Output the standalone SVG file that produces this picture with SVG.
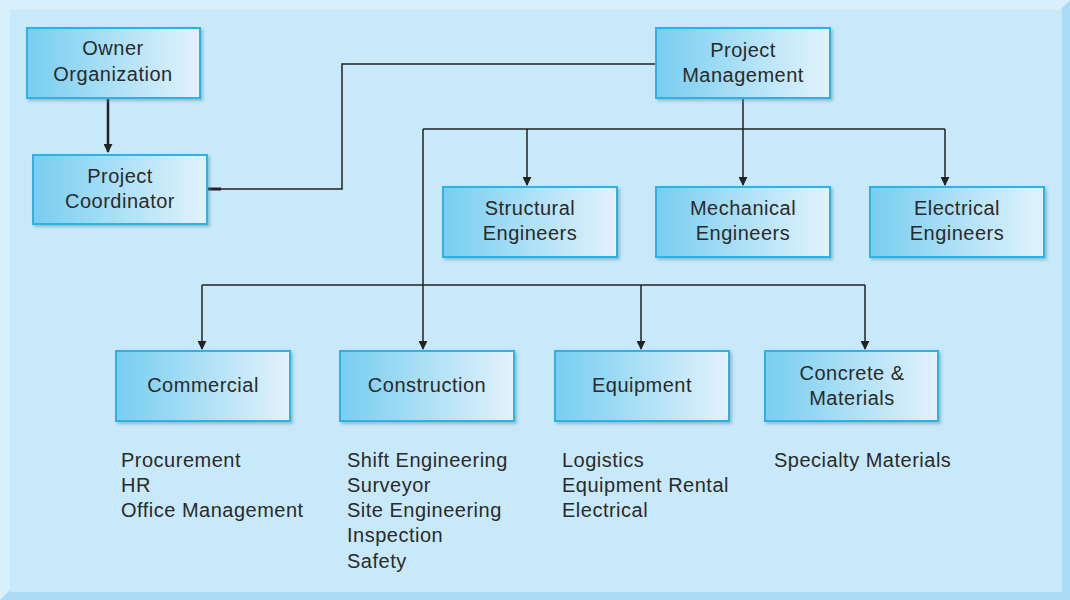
<svg xmlns="http://www.w3.org/2000/svg" width="1070" height="600" viewBox="0 0 1070 600">
<defs>
<linearGradient id="g" x1="0" x2="1" y1="0" y2="0"><stop offset="0" stop-color="#78cdf0"/><stop offset="1" stop-color="#e2f3fc"/></linearGradient>
<filter id="sh" x="-10%" y="-10%" width="130%" height="130%"><feDropShadow dx="2" dy="2" stdDeviation="1.5" flood-color="#5a8aa0" flood-opacity="0.5"/></filter>
<marker id="a" viewBox="0 0 10 10" refX="9" refY="5" markerWidth="9" markerHeight="9" markerUnits="userSpaceOnUse" orient="auto"><path d="M0,0 L10,5 L0,10 z" fill="#222"/></marker>
</defs>
<style>
.b{fill:url(#g);stroke:#2cb4e6;stroke-width:2;filter:url(#sh)}
text{font-family:"Liberation Sans",Arial,sans-serif;font-size:20px;letter-spacing:0.5px;fill:#2a2a2a}
.c{text-anchor:middle}
.l{fill:none;stroke:#222;stroke-width:1.5}
</style>
<rect width="1070" height="600" fill="#a9dcf4"/>
<rect x="10" y="10" width="1052" height="582" fill="#c8e9fa"/>
<path d="M0,0 H1070 L1060,10 H10 V590 L0,600 Z" fill="#d8f0fb"/>
<g id="connectors">
<path class="l" d="M108,98 V152" style="stroke-width:2.5" marker-end="url(#a)"/>
<path class="l" d="M207,189 H342 V64 H656"/>
<path d="M207,189 H221" stroke="#222" stroke-width="3"/>
<path class="l" d="M743,98 V129"/>
<path class="l" d="M423,129 H945"/>
<path class="l" d="M527,129 V185" marker-end="url(#a)"/>
<path class="l" d="M743,129 V185" marker-end="url(#a)"/>
<path class="l" d="M945,129 V185" marker-end="url(#a)"/>
<path class="l" d="M423,129 V349" marker-end="url(#a)"/>
<path class="l" d="M202,285 H865"/>
<path class="l" d="M202,285 V349" marker-end="url(#a)"/>
<path class="l" d="M641,285 V349" marker-end="url(#a)"/>
<path class="l" d="M865,285 V349" marker-end="url(#a)"/>
</g>
<g id="owner"><rect class="b" x="27" y="28" width="173" height="70"/><text class="c" x="113" y="55">Owner</text><text class="c" x="113" y="81">Organization</text></g>
<g id="coordinator"><rect class="b" x="33" y="155" width="174" height="69"/><text class="c" x="120" y="183">Project</text><text class="c" x="120" y="208">Coordinator</text></g>
<g id="pm"><rect class="b" x="656" y="28" width="174" height="70"/><text class="c" x="743" y="57">Project</text><text class="c" x="743" y="82">Management</text></g>
<g id="structural"><rect class="b" x="443" y="187" width="174" height="70"/><text class="c" x="530" y="215">Structural</text><text class="c" x="530" y="240">Engineers</text></g>
<g id="mechanical"><rect class="b" x="656" y="187" width="174" height="70"/><text class="c" x="743" y="215">Mechanical</text><text class="c" x="743" y="240">Engineers</text></g>
<g id="electrical"><rect class="b" x="870" y="187" width="174" height="70"/><text class="c" x="957" y="215">Electrical</text><text class="c" x="957" y="240">Engineers</text></g>
<g id="commercial"><rect class="b" x="116" y="351" width="174" height="70"/><text class="c" x="203" y="392">Commercial</text>
<text x="121" y="467">Procurement</text><text x="121" y="492">HR</text><text x="121" y="517">Office Management</text></g>
<g id="construction"><rect class="b" x="340" y="351" width="174" height="70"/><text class="c" x="427" y="392">Construction</text>
<text x="347" y="467">Shift Engineering</text><text x="347" y="492">Surveyor</text><text x="347" y="517">Site Engineering</text><text x="347" y="542">Inspection</text><text x="347" y="568">Safety</text></g>
<g id="equipment"><rect class="b" x="555" y="351" width="174" height="70"/><text class="c" x="642" y="392">Equipment</text>
<text x="562" y="467">Logistics</text><text x="562" y="492">Equipment Rental</text><text x="562" y="517">Electrical</text></g>
<g id="concrete"><rect class="b" x="765" y="351" width="173" height="70"/><text class="c" x="852" y="380">Concrete &amp;</text><text class="c" x="852" y="405">Materials</text>
<text x="774" y="467">Specialty Materials</text></g>
</svg>
